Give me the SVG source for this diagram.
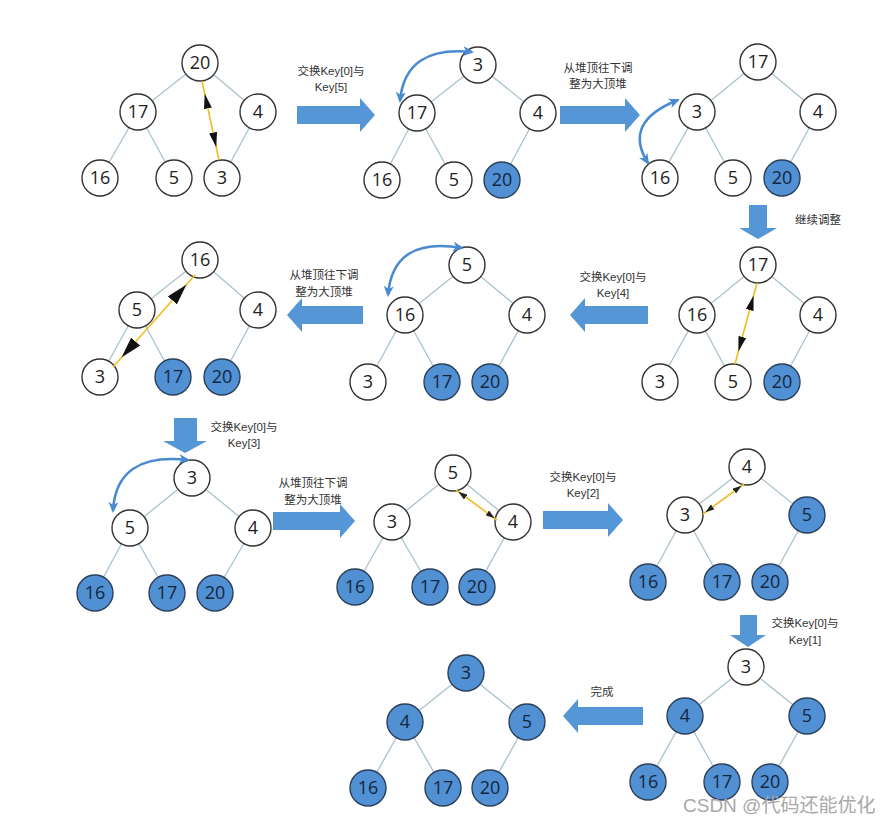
<svg xmlns="http://www.w3.org/2000/svg" width="891" height="825" viewBox="0 0 891 825">
<style>
.e{stroke:#a9c2cf;stroke-width:1.3;fill:none}
.w circle{fill:#fff;stroke:#333;stroke-width:1.4}
.f circle{fill:#5090d3;stroke:#2a3f5a;stroke-width:1.4}
.node text{font-family:"Open Sans","Liberation Sans",sans-serif;font-size:18px;text-anchor:middle;fill:#222}
.f text{fill:#15263d}
.ba{fill:#5596d6}
.lbl{font-family:"Liberation Sans","Noto Sans CJK SC",sans-serif;font-size:11.5px;text-anchor:middle;fill:#333}
.cv{stroke:#4a8ad0;stroke-width:2.6;fill:none;marker-start:url(#bh);marker-end:url(#bh)}
.ya{stroke:#f0bc20;stroke-width:1.6;fill:none}
.wm{font-family:"Liberation Sans","Noto Sans CJK SC",sans-serif;font-size:19px;fill:#a8a8a8}
</style>
<defs>
<marker id="bh" markerWidth="12" markerHeight="10" refX="9" refY="5" orient="auto-start-reverse" markerUnits="userSpaceOnUse">
<path d="M0,0 L11,5 L0,10 L3,5 Z" fill="#4a8ad0"/>
</marker>
<marker id="kh" markerWidth="16" markerHeight="8" refX="28" refY="4" orient="auto-start-reverse" markerUnits="userSpaceOnUse">
<path d="M0,0 L15,4 L0,8 Z" fill="#111"/>
</marker>
<marker id="kb" markerWidth="22" markerHeight="12" refX="34" refY="6" orient="auto-start-reverse" markerUnits="userSpaceOnUse">
<path d="M0,0 L21,6 L0,12 Z" fill="#111"/>
</marker>
<marker id="ks" markerWidth="10" markerHeight="6" refX="12" refY="3" orient="auto-start-reverse" markerUnits="userSpaceOnUse">
<path d="M0,0 L9,3 L0,6 Z" fill="#222"/>
</marker>
</defs>

<g id="connectors">
<line class="e" x1="200" y1="63" x2="138" y2="112"/><line class="e" x1="200" y1="63" x2="258" y2="112"/><line class="e" x1="138" y1="112" x2="100" y2="178"/><line class="e" x1="138" y1="112" x2="174" y2="178"/><line class="e" x1="258" y1="112" x2="222" y2="178"/>
<line class="e" x1="478" y1="65" x2="417" y2="113"/><line class="e" x1="478" y1="65" x2="538" y2="113"/><line class="e" x1="417" y1="113" x2="382" y2="180"/><line class="e" x1="417" y1="113" x2="454" y2="180"/><line class="e" x1="538" y1="113" x2="502" y2="180"/>
<line class="e" x1="758" y1="62" x2="697" y2="112"/><line class="e" x1="758" y1="62" x2="818" y2="112"/><line class="e" x1="697" y1="112" x2="660" y2="178"/><line class="e" x1="697" y1="112" x2="733" y2="178"/><line class="e" x1="818" y1="112" x2="782" y2="178"/>
<line class="e" x1="758" y1="265" x2="697" y2="315"/><line class="e" x1="758" y1="265" x2="818" y2="315"/><line class="e" x1="697" y1="315" x2="660" y2="382"/><line class="e" x1="697" y1="315" x2="733" y2="382"/><line class="e" x1="818" y1="315" x2="782" y2="382"/>
<line class="e" x1="467" y1="265" x2="405" y2="315"/><line class="e" x1="467" y1="265" x2="527" y2="315"/><line class="e" x1="405" y1="315" x2="368" y2="382"/><line class="e" x1="405" y1="315" x2="442" y2="382"/><line class="e" x1="527" y1="315" x2="490" y2="382"/>
<line class="e" x1="200" y1="260" x2="137" y2="310"/><line class="e" x1="200" y1="260" x2="258" y2="310"/><line class="e" x1="137" y1="310" x2="100" y2="377"/><line class="e" x1="137" y1="310" x2="173" y2="377"/><line class="e" x1="258" y1="310" x2="222" y2="377"/>
<line class="e" x1="192" y1="478" x2="130" y2="528"/><line class="e" x1="192" y1="478" x2="253" y2="528"/><line class="e" x1="130" y1="528" x2="95" y2="593"/><line class="e" x1="130" y1="528" x2="167" y2="593"/><line class="e" x1="253" y1="528" x2="215" y2="593"/>
<line class="e" x1="453" y1="473" x2="392" y2="522"/><line class="e" x1="453" y1="473" x2="513" y2="522"/><line class="e" x1="392" y1="522" x2="355" y2="587"/><line class="e" x1="392" y1="522" x2="430" y2="587"/><line class="e" x1="513" y1="522" x2="477" y2="587"/>
<line class="e" x1="747" y1="467" x2="685" y2="515"/><line class="e" x1="747" y1="467" x2="807" y2="515"/><line class="e" x1="685" y1="515" x2="648" y2="582"/><line class="e" x1="685" y1="515" x2="722" y2="582"/><line class="e" x1="807" y1="515" x2="770" y2="582"/>
<line class="e" x1="746" y1="667" x2="685" y2="716"/><line class="e" x1="746" y1="667" x2="807" y2="716"/><line class="e" x1="685" y1="716" x2="648" y2="782"/><line class="e" x1="685" y1="716" x2="722" y2="782"/><line class="e" x1="807" y1="716" x2="770" y2="782"/>
<line class="e" x1="466" y1="673" x2="405" y2="722"/><line class="e" x1="466" y1="673" x2="527" y2="722"/><line class="e" x1="405" y1="722" x2="368" y2="788"/><line class="e" x1="405" y1="722" x2="443" y2="788"/><line class="e" x1="527" y1="722" x2="490" y2="788"/>
</g>

<g id="nodes">
<g id="t1-20" class="node w"><circle cx="200" cy="63" r="18"/><text x="200" y="69">20</text></g>
<g id="t1-17" class="node w"><circle cx="138" cy="112" r="18"/><text x="138" y="118">17</text></g>
<g id="t1-4" class="node w"><circle cx="258" cy="112" r="18"/><text x="258" y="118">4</text></g>
<g id="t1-16" class="node w"><circle cx="100" cy="178" r="18"/><text x="100" y="184">16</text></g>
<g id="t1-5" class="node w"><circle cx="174" cy="178" r="18"/><text x="174" y="184">5</text></g>
<g id="t1-3" class="node w"><circle cx="222" cy="178" r="18"/><text x="222" y="184">3</text></g>

<g id="t2-3" class="node w"><circle cx="478" cy="65" r="18"/><text x="478" y="71">3</text></g>
<g id="t2-17" class="node w"><circle cx="417" cy="113" r="18"/><text x="417" y="119">17</text></g>
<g id="t2-4" class="node w"><circle cx="538" cy="113" r="18"/><text x="538" y="119">4</text></g>
<g id="t2-16" class="node w"><circle cx="382" cy="180" r="18"/><text x="382" y="186">16</text></g>
<g id="t2-5" class="node w"><circle cx="454" cy="180" r="18"/><text x="454" y="186">5</text></g>
<g id="t2-20" class="node f"><circle cx="502" cy="180" r="18"/><text x="502" y="186">20</text></g>

<g id="t3-17" class="node w"><circle cx="758" cy="62" r="18"/><text x="758" y="68">17</text></g>
<g id="t3-3" class="node w"><circle cx="697" cy="112" r="18"/><text x="697" y="118">3</text></g>
<g id="t3-4" class="node w"><circle cx="818" cy="112" r="18"/><text x="818" y="118">4</text></g>
<g id="t3-16" class="node w"><circle cx="660" cy="178" r="18"/><text x="660" y="184">16</text></g>
<g id="t3-5" class="node w"><circle cx="733" cy="178" r="18"/><text x="733" y="184">5</text></g>
<g id="t3-20" class="node f"><circle cx="782" cy="178" r="18"/><text x="782" y="184">20</text></g>

<g id="t4-17" class="node w"><circle cx="758" cy="265" r="18"/><text x="758" y="271">17</text></g>
<g id="t4-16" class="node w"><circle cx="697" cy="315" r="18"/><text x="697" y="321">16</text></g>
<g id="t4-4" class="node w"><circle cx="818" cy="315" r="18"/><text x="818" y="321">4</text></g>
<g id="t4-3" class="node w"><circle cx="660" cy="382" r="18"/><text x="660" y="388">3</text></g>
<g id="t4-5" class="node w"><circle cx="733" cy="382" r="18"/><text x="733" y="388">5</text></g>
<g id="t4-20" class="node f"><circle cx="782" cy="382" r="18"/><text x="782" y="388">20</text></g>

<g id="t5-5" class="node w"><circle cx="467" cy="265" r="18"/><text x="467" y="271">5</text></g>
<g id="t5-16" class="node w"><circle cx="405" cy="315" r="18"/><text x="405" y="321">16</text></g>
<g id="t5-4" class="node w"><circle cx="527" cy="315" r="18"/><text x="527" y="321">4</text></g>
<g id="t5-3" class="node w"><circle cx="368" cy="382" r="18"/><text x="368" y="388">3</text></g>
<g id="t5-17" class="node f"><circle cx="442" cy="382" r="18"/><text x="442" y="388">17</text></g>
<g id="t5-20" class="node f"><circle cx="490" cy="382" r="18"/><text x="490" y="388">20</text></g>

<g id="t6-16" class="node w"><circle cx="200" cy="260" r="18"/><text x="200" y="266">16</text></g>
<g id="t6-5" class="node w"><circle cx="137" cy="310" r="18"/><text x="137" y="316">5</text></g>
<g id="t6-4" class="node w"><circle cx="258" cy="310" r="18"/><text x="258" y="316">4</text></g>
<g id="t6-3" class="node w"><circle cx="100" cy="377" r="18"/><text x="100" y="383">3</text></g>
<g id="t6-17" class="node f"><circle cx="173" cy="377" r="18"/><text x="173" y="383">17</text></g>
<g id="t6-20" class="node f"><circle cx="222" cy="377" r="18"/><text x="222" y="383">20</text></g>

<g id="t7-3" class="node w"><circle cx="192" cy="478" r="18"/><text x="192" y="484">3</text></g>
<g id="t7-5" class="node w"><circle cx="130" cy="528" r="18"/><text x="130" y="534">5</text></g>
<g id="t7-4" class="node w"><circle cx="253" cy="528" r="18"/><text x="253" y="534">4</text></g>
<g id="t7-16" class="node f"><circle cx="95" cy="593" r="18"/><text x="95" y="599">16</text></g>
<g id="t7-17" class="node f"><circle cx="167" cy="593" r="18"/><text x="167" y="599">17</text></g>
<g id="t7-20" class="node f"><circle cx="215" cy="593" r="18"/><text x="215" y="599">20</text></g>

<g id="t8-5" class="node w"><circle cx="453" cy="473" r="18"/><text x="453" y="479">5</text></g>
<g id="t8-3" class="node w"><circle cx="392" cy="522" r="18"/><text x="392" y="528">3</text></g>
<g id="t8-4" class="node w"><circle cx="513" cy="522" r="18"/><text x="513" y="528">4</text></g>
<g id="t8-16" class="node f"><circle cx="355" cy="587" r="18"/><text x="355" y="593">16</text></g>
<g id="t8-17" class="node f"><circle cx="430" cy="587" r="18"/><text x="430" y="593">17</text></g>
<g id="t8-20" class="node f"><circle cx="477" cy="587" r="18"/><text x="477" y="593">20</text></g>

<g id="t9-4" class="node w"><circle cx="747" cy="467" r="18"/><text x="747" y="473">4</text></g>
<g id="t9-3" class="node w"><circle cx="685" cy="515" r="18"/><text x="685" y="521">3</text></g>
<g id="t9-5" class="node f"><circle cx="807" cy="515" r="18"/><text x="807" y="521">5</text></g>
<g id="t9-16" class="node f"><circle cx="648" cy="582" r="18"/><text x="648" y="588">16</text></g>
<g id="t9-17" class="node f"><circle cx="722" cy="582" r="18"/><text x="722" y="588">17</text></g>
<g id="t9-20" class="node f"><circle cx="770" cy="582" r="18"/><text x="770" y="588">20</text></g>

<g id="t10-3" class="node w"><circle cx="746" cy="667" r="18"/><text x="746" y="673">3</text></g>
<g id="t10-4" class="node f"><circle cx="685" cy="716" r="18"/><text x="685" y="722">4</text></g>
<g id="t10-5" class="node f"><circle cx="807" cy="716" r="18"/><text x="807" y="722">5</text></g>
<g id="t10-16" class="node f"><circle cx="648" cy="782" r="18"/><text x="648" y="788">16</text></g>
<g id="t10-17" class="node f"><circle cx="722" cy="782" r="18"/><text x="722" y="788">17</text></g>
<g id="t10-20" class="node f"><circle cx="770" cy="782" r="18"/><text x="770" y="788">20</text></g>

<g id="t11-3" class="node f"><circle cx="466" cy="673" r="18"/><text x="466" y="679">3</text></g>
<g id="t11-4" class="node f"><circle cx="405" cy="722" r="18"/><text x="405" y="728">4</text></g>
<g id="t11-5" class="node f"><circle cx="527" cy="722" r="18"/><text x="527" y="728">5</text></g>
<g id="t11-16" class="node f"><circle cx="368" cy="788" r="18"/><text x="368" y="794">16</text></g>
<g id="t11-17" class="node f"><circle cx="443" cy="788" r="18"/><text x="443" y="794">17</text></g>
<g id="t11-20" class="node f"><circle cx="490" cy="788" r="18"/><text x="490" y="794">20</text></g>
</g>

<g id="swap-arrows">
<line class="ya" x1="202" y1="81" x2="219" y2="160" marker-start="url(#kh)" marker-end="url(#kh)"/>
<path class="cv" d="M400,101 Q405,45 472,52"/>
<path class="cv" d="M678,100 Q622,122 648,163"/>
<line class="ya" x1="757" y1="283" x2="735" y2="364" marker-start="url(#kh)" marker-end="url(#kh)"/>
<path class="cv" d="M388,295 Q393,236 462,248"/>
<line class="ya" x1="195" y1="275" x2="113" y2="367" marker-start="url(#kb)" marker-end="url(#kb)"/>
<path class="cv" d="M113,511 Q116,452 188,460"/>
<line class="ya" x1="456" y1="490" x2="497" y2="520" marker-start="url(#ks)" marker-end="url(#ks)"/>
<line class="ya" x1="703" y1="514" x2="744" y2="484" marker-start="url(#ks)" marker-end="url(#ks)"/>
</g>

<g id="step-arrows">
<polygon class="ba" points="297,106 360,106 360,98 375,115 360,132 360,124 297,124"/>
<polygon class="ba" points="560,106 625,106 625,98 640,115 625,132 625,124 560,124"/>
<polygon class="ba" points="749,205 767,205 767,228 777,228 758,239 739,228 749,228"/>
<polygon class="ba" points="648,306 585,306 585,298 570,315 585,332 585,324 648,324"/>
<polygon class="ba" points="363,306 302,306 302,298 287,315 302,332 302,324 363,324"/>
<polygon class="ba" points="174,418 197,418 197,441 207,441 185,453 163,441 174,441"/>
<polygon class="ba" points="273,512 340,512 340,504 355,521 340,538 340,530 273,530"/>
<polygon class="ba" points="543,511 608,511 608,503 623,520 608,537 608,529 543,529"/>
<polygon class="ba" points="740,615 757,615 757,635 766,635 748,647 730,635 740,635"/>
<polygon class="ba" points="643,707 578,707 578,699 563,716 578,733 578,725 643,725"/>
</g>

<g id="labels">
<text class="lbl" x="331" y="75">交换Key[0]与</text><text class="lbl" x="331" y="91">Key[5]</text>
<text class="lbl" x="598" y="72">从堆顶往下调</text><text class="lbl" x="598" y="88">整为大顶堆</text>
<text class="lbl" x="818" y="224">继续调整</text>
<text class="lbl" x="613" y="281">交换Key[0]与</text><text class="lbl" x="613" y="297">Key[4]</text>
<text class="lbl" x="324" y="279">从堆顶往下调</text><text class="lbl" x="324" y="296">整为大顶堆</text>
<text class="lbl" x="244" y="431">交换Key[0]与</text><text class="lbl" x="244" y="447">Key[3]</text>
<text class="lbl" x="313" y="487">从堆顶往下调</text><text class="lbl" x="313" y="504">整为大顶堆</text>
<text class="lbl" x="583" y="481">交换Key[0]与</text><text class="lbl" x="583" y="497">Key[2]</text>
<text class="lbl" x="805" y="627">交换Key[0]与</text><text class="lbl" x="805" y="644">Key[1]</text>
<text class="lbl" x="602" y="696">完成</text>
</g>

<text class="wm" x="683" y="812">CSDN @代码还能优化</text>
</svg>
